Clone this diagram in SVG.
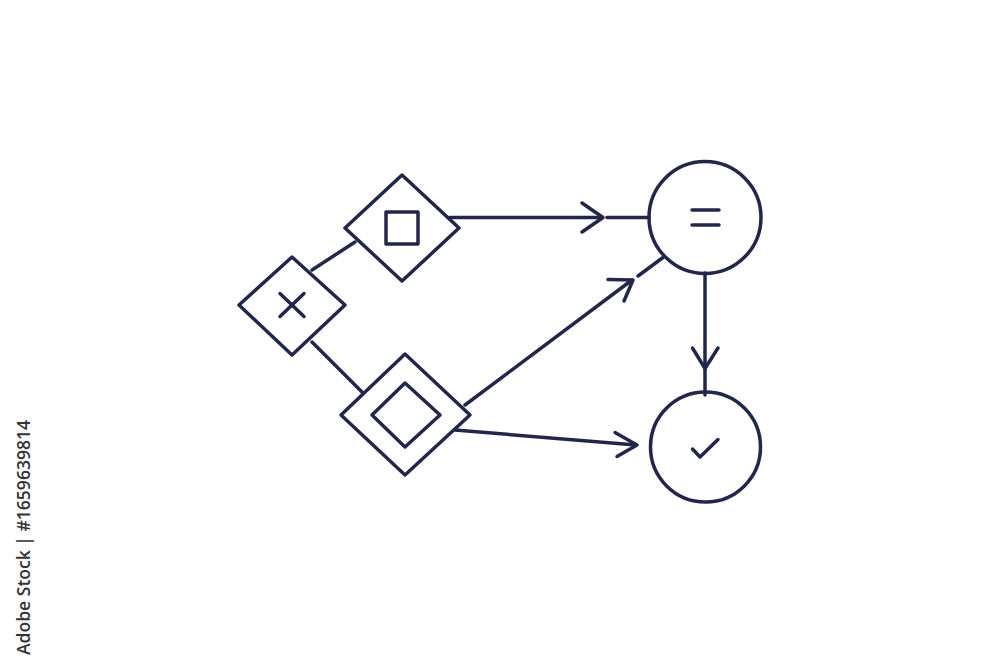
<svg xmlns="http://www.w3.org/2000/svg" width="1000" height="667" viewBox="0 0 1000 667">
  <style>
    .s { fill: none; stroke: #23264b; stroke-width: 3.5; stroke-linecap: round; stroke-linejoin: round; }
    .wm { font-family: "Open Sans", "Liberation Sans", sans-serif; font-weight: 600; font-size: 18px; fill: #333333; }
  </style>
  <rect width="1000" height="667" fill="#ffffff"/>
  <g id="connectors" class="s">
    <line x1="312" y1="270" x2="355" y2="242"/>
    <line x1="312" y1="342" x2="362" y2="392"/>
    <line x1="450" y1="217.5" x2="602" y2="217.5"/>
    <polyline points="582,203 603,217.5 582,232"/>
    <line x1="607" y1="217.5" x2="649" y2="217.5"/>
    <line x1="465" y1="405" x2="632" y2="280"/>
    <polyline points="608,279.5 633,280 624,301"/>
    <line x1="638" y1="276" x2="663" y2="257.5"/>
    <line x1="455" y1="430" x2="636" y2="445"/>
    <polyline points="615,432.5 637,445 617,456.5"/>
    <line x1="705" y1="273" x2="705" y2="395"/>
    <polyline points="692.5,348 705,368.5 718,348"/>
  </g>
  <g id="node-x" class="s">
    <path d="M292,257 L345,305 L292,355 L239,305 Z"/>
    <line x1="280" y1="293.5" x2="304" y2="316.5"/>
    <line x1="304" y1="293.5" x2="280" y2="316.5"/>
  </g>
  <g id="node-square" class="s">
    <path d="M402,175 L459,228 L402,281 L345,228 Z"/>
    <rect x="386" y="212" width="32" height="32"/>
  </g>
  <g id="node-double-diamond" class="s">
    <path d="M405,354 L470,415 L405,475 L341,415 Z"/>
    <path d="M405,383 L440,415 L405,447 L372,415 Z"/>
  </g>
  <g id="node-equal" class="s">
    <circle cx="705" cy="217.5" r="56"/>
    <line x1="692" y1="210" x2="719" y2="210"/>
    <line x1="692" y1="225" x2="719" y2="225"/>
  </g>
  <g id="node-check" class="s">
    <circle cx="705.5" cy="447" r="55"/>
    <polyline points="692.5,449 700,457 718,439.5"/>
  </g>
  <text class="wm" x="30" y="655" textLength="235" lengthAdjust="spacingAndGlyphs" transform="rotate(-90 30 655)">Adobe Stock | #1659639814</text>
</svg>
